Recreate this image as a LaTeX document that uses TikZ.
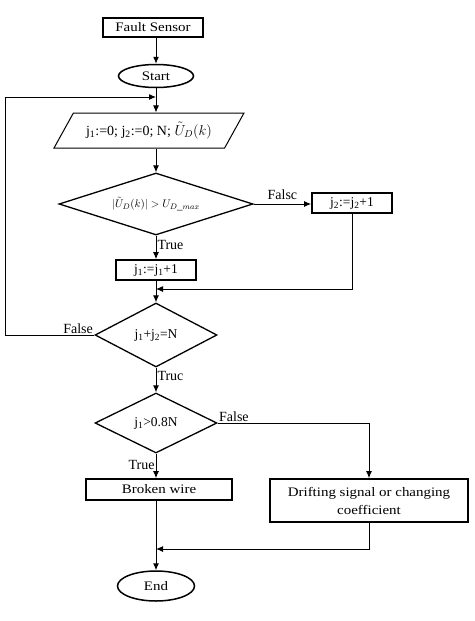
\documentclass[tikz,border=0pt]{standalone}
\usepackage{fontspec}
\setmainfont{Liberation Serif}
\newfontfamily\wideserif[FakeStretch=1.15]{Liberation Serif}
\usetikzlibrary{arrows.meta, shapes.geometric, calc}

\newcommand{\jfont}{\fontsize{13.5}{15}\selectfont}
\newcommand{\wfont}{\wideserif\fontsize{13}{18}\selectfont}

\tikzset{
	procbox/.style={draw, line width=1.6pt, inner sep=0pt},
	termbox/.style={ellipse, draw, line width=1.5pt, inner sep=0pt},
	testbox/.style={diamond, draw, line width=1.3pt, inner sep=0pt, aspect=2},
	iobox/.style={trapezium, trapezium left angle=47, trapezium right angle=133, trapezium stretches body, draw, line width=1pt, inner xsep=-8pt, inner ysep=2pt},
	flow/.style={-{Latex[length=7pt,width=6pt]}, line width=1pt},
	yesno/.style={font=\fontsize{14}{16}\selectfont, inner sep=1pt},
}

\begin{document}
\begin{tikzpicture}[x=1pt, y=-1pt]
	\fill[white] (0,0) rectangle (474,621);
	\useasboundingbox (0,0) rectangle (474,621);

	% boxes of the chart, top to bottom
	\node[procbox, minimum width=100, minimum height=19, font=\wfont] (sensor) at (153,27.5) {Fault Sensor};
	\node[termbox, minimum width=75, minimum height=23, font=\wfont] (start) at (156,76) {Start};
	\node[iobox, minimum width=190, minimum height=35, font=\fontsize{14}{16}\selectfont] (input) at (149,130.5) {j\textsubscript{1}:=0; j\textsubscript{2}:=0; N; $\tilde{U}_D(k)$};
	\node[testbox, minimum width=194, minimum height=62, font=\fontsize{11}{13}\selectfont] (chk) at (156,204) {$|\tilde{U}_D(k)| > U_{D\_max}$};
	\node[procbox, minimum width=80, minimum height=20, font=\jfont] (inctwo) at (352,203) {j\textsubscript{2}:=j\textsubscript{2}+1};
	\node[procbox, minimum width=80, minimum height=20, font=\jfont] (incone) at (156,270) {j\textsubscript{1}:=j\textsubscript{1}+1};
	\node[testbox, minimum width=122, minimum height=64, font=\jfont] (sum) at (156,335) {j\textsubscript{1}+j\textsubscript{2}=N};
	\node[testbox, minimum width=122, minimum height=60, font=\jfont] (ratio) at (156,423) {j\textsubscript{1}>0.8N};
	\node[procbox, minimum width=146, minimum height=21, font=\wfont] (broken) at (159,489.5) {Broken wire};
	\node[procbox, minimum width=198, minimum height=43, font=\wfont, align=center] (drift) at (369,500.5) {Drifting signal or changing\\coefficient};
	\node[termbox, minimum width=77, minimum height=30, font=\wfont] (end) at (156,586) {End};

	% junctions on the main line
	\coordinate (back) at (156,97);
	\coordinate (merge) at (156,289);
	\coordinate (join) at (156,549);

	\draw[flow] (sensor.south -| start) -- (start.north);
	\draw[flow] (start.south) -- (start.south |- input.north);
	\draw[flow] (input.south -| chk) -- (chk.north);
	\draw[flow] (chk.east) -- node[yesno, above=3pt] (f1) {Falsc} (chk.east -| inctwo.west);
	\draw[flow] (chk.south) -- node[yesno, right, pos=0.4] (t1) {True} (incone.north);
	\draw[flow] (incone.south) -- (sum.north);
	\draw[flow] (inctwo.south) |- (merge);
	\draw[flow] (sum.west) node[yesno, anchor=south east] (f2) {False} -- ++(-89,0) |- (back);
	\draw[flow] (sum.south) -- node[yesno, right, pos=0.35] (t2) {Truc} (ratio.north);
	\draw[flow] (ratio.east) node[yesno, anchor=south west] (f3) {False} -| (drift.north);
	\draw[flow] (ratio.south) -- node[yesno, left, pos=0.45] (t3) {True} (ratio.south |- broken.north);
	\draw[flow] (broken.south -| end) -- (end.north);
	\draw[flow] (drift.south) |- (join);

\end{tikzpicture}
\end{document}
